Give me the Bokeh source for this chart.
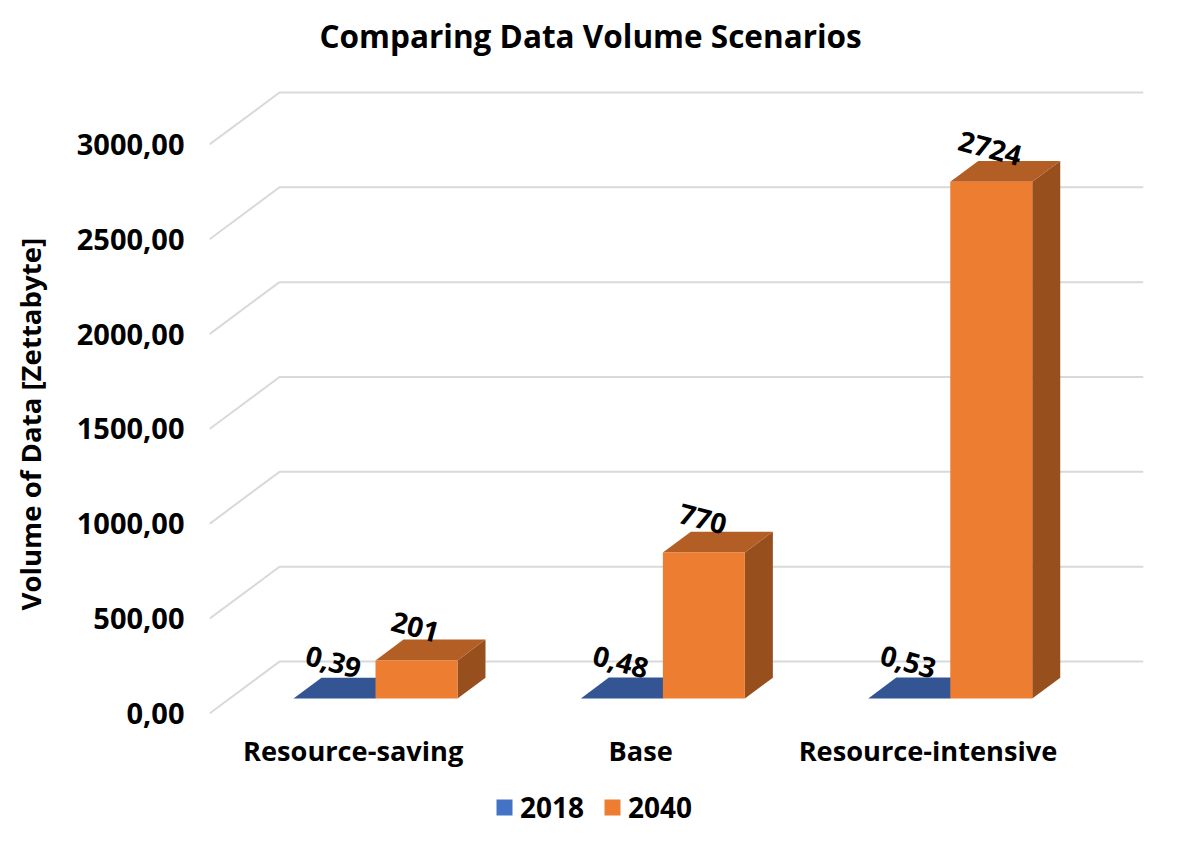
from bokeh.plotting import figure
from bokeh.models import FixedTicker, Legend, LegendItem, Title
from bokeh.core.properties import value
from bokeh.embed import file_html
from bokeh.resources import INLINE
import math

# ---- data
categories = ["Resource-saving", "Base", "Resource-intensive"]
values_2018 = [0.39, 0.48, 0.53]
values_2040 = [201, 770, 2724]
labels_2018 = ["0,39", "0,48", "0,53"]
labels_2040 = ["201", "770", "2724"]
y_ticks = [0, 500, 1000, 1500, 2000, 2500, 3000]
y_tick_labels = ["0,00", "500,00", "1000,00", "1500,00", "2000,00", "2500,00", "3000,00"]

# ---- oblique projection, in data units
FONT = "Open Sans"
X_END = 3.25
WALL_DX, WALL_DY = 0.2436, 274.0      # depth of the whole floor
BAR_DX, BAR_DY = 0.0974, 110.0        # depth of a bar
OFF_DX, OFF_DY = 0.0776, 79.0         # where the bars' front face sits
BAR_W = 0.2853

p = figure(width=1172, height=836, output_backend="svg", toolbar_location=None,
           x_range=(0, X_END), y_range=(-648, 3337),
           min_border_left=209, min_border_right=29, min_border_top=80, min_border_bottom=0,
           outline_line_color=None, background_fill_color="white")
p.grid.visible = False

# spacer between the frame and the chart title
p.add_layout(Title(text=" ", standoff=21, text_font_size="1px"), "above")
title = Title(text="Comparing Data Volume Scenarios", align="left", offset=110, standoff=0,
              text_font=FONT, text_font_style="bold", text_font_size="31.5px", text_color="black")
p.add_layout(title, "above")

# axes
p.yaxis.ticker = FixedTicker(ticks=y_ticks)
p.yaxis.major_label_overrides = dict(zip(y_ticks, y_tick_labels))
p.yaxis.axis_line_color = None
p.yaxis.major_tick_line_color = None
p.yaxis.minor_tick_line_color = None
p.yaxis.major_label_standoff = 19
p.yaxis.major_label_text_font = FONT
p.yaxis.major_label_text_font_style = "bold"
p.yaxis.major_label_text_font_size = "29px"
p.yaxis.major_label_text_color = "black"

# spacer between the tick labels and the axis title
p.add_layout(Title(text=" ", standoff=22, text_font_size="1px"), "left")
y_title = Title(text="Volume of Data [Zettabyte]", align="left", offset=226, standoff=0,
                text_font=FONT, text_font_style="bold", text_font_size="27.6px", text_color="black")
p.add_layout(y_title, "left")

centers = [i + 0.5 for i in range(len(categories))]
p.xaxis.ticker = FixedTicker(ticks=centers)
p.xaxis.fixed_location = 0
p.xaxis.major_label_overrides = dict(zip(centers, categories))
p.xaxis.axis_line_color = None
p.xaxis.major_tick_line_color = None
p.xaxis.minor_tick_line_color = None
p.xaxis.major_label_standoff = 12
p.xaxis.major_label_text_font = FONT
p.xaxis.major_label_text_font_style = "bold"
p.xaxis.major_label_text_font_size = "27.2px"
p.xaxis.major_label_text_color = "black"

# walls
xs, ys = [], []
for t in y_ticks:
    xs.append([0, WALL_DX, X_END])
    ys.append([t, t + WALL_DY, t + WALL_DY])
p.multi_line(xs, ys, line_color="#D9D9D9", line_width=2)

def faces(x0s, x1s, vals):
    fx, fy, tx, ty, sx, sy = [], [], [], [], [], []
    for x0, x1, v in zip(x0s, x1s, vals):
        b = OFF_DY
        t = OFF_DY + v
        fx.append([x0, x1, x1, x0]); fy.append([b, b, t, t])
        tx.append([x0, x1, x1 + BAR_DX, x0 + BAR_DX]); ty.append([t, t, t + BAR_DY, t + BAR_DY])
        sx.append([x1, x1 + BAR_DX, x1 + BAR_DX, x1]); sy.append([b, b + BAR_DY, t + BAR_DY, t])
    return fx, fy, tx, ty, sx, sy

edge = [c + OFF_DX for c in centers]
blue_left = [e - BAR_W for e in edge]
orange_right = [e + BAR_W for e in edge]

fx, fy, tx, ty, sx, sy = faces(blue_left, edge, values_2018)
p.patches(sx, sy, fill_color="#2A4A7F", line_color=None)
p.patches(tx, ty, fill_color="#335593", line_color=None)
r2018 = p.patches(fx, fy, fill_color="#4472C4", line_color=None)

fx, fy, tx, ty, sx, sy = faces(edge, orange_right, values_2040)
p.patches(sx, sy, fill_color="#974F1E", line_color=None)
p.patches(tx, ty, fill_color="#B35E24", line_color=None)
r2040 = p.patches(fx, fy, fill_color="#ED7D31", line_color=None)

# data labels
ang = math.radians(-15)
p.text([(a + b) / 2 for a, b in zip(blue_left, edge)], [OFF_DY + v for v in values_2018],
       text=labels_2018, angle=ang, x_offset=-1, y_offset=-37,
       text_align="center", text_baseline="middle",
       text_font=value(FONT), text_font_style="bold", text_font_size="28px", text_color="black")
p.text([(a + b) / 2 for a, b in zip(edge, orange_right)], [OFF_DY + v for v in values_2040],
       text=labels_2040, angle=ang, x_offset=-1, y_offset=-34,
       text_align="center", text_baseline="middle",
       text_font=value(FONT), text_font_style="bold", text_font_size="28px", text_color="black")

legend = Legend(items=[LegendItem(label="2018", renderers=[r2018]),
                       LegendItem(label="2040", renderers=[r2040])],
                orientation="horizontal", location=(285, 10),
                border_line_color=None, background_fill_alpha=0,
                glyph_width=20, glyph_height=20, spacing=18, label_standoff=6,
                margin=0, padding=0,
                label_text_font=FONT, label_text_font_style="bold",
                label_text_font_size="28px", label_text_color="black")
p.add_layout(legend)

open("out.html", "w").write(file_html(p, INLINE))
